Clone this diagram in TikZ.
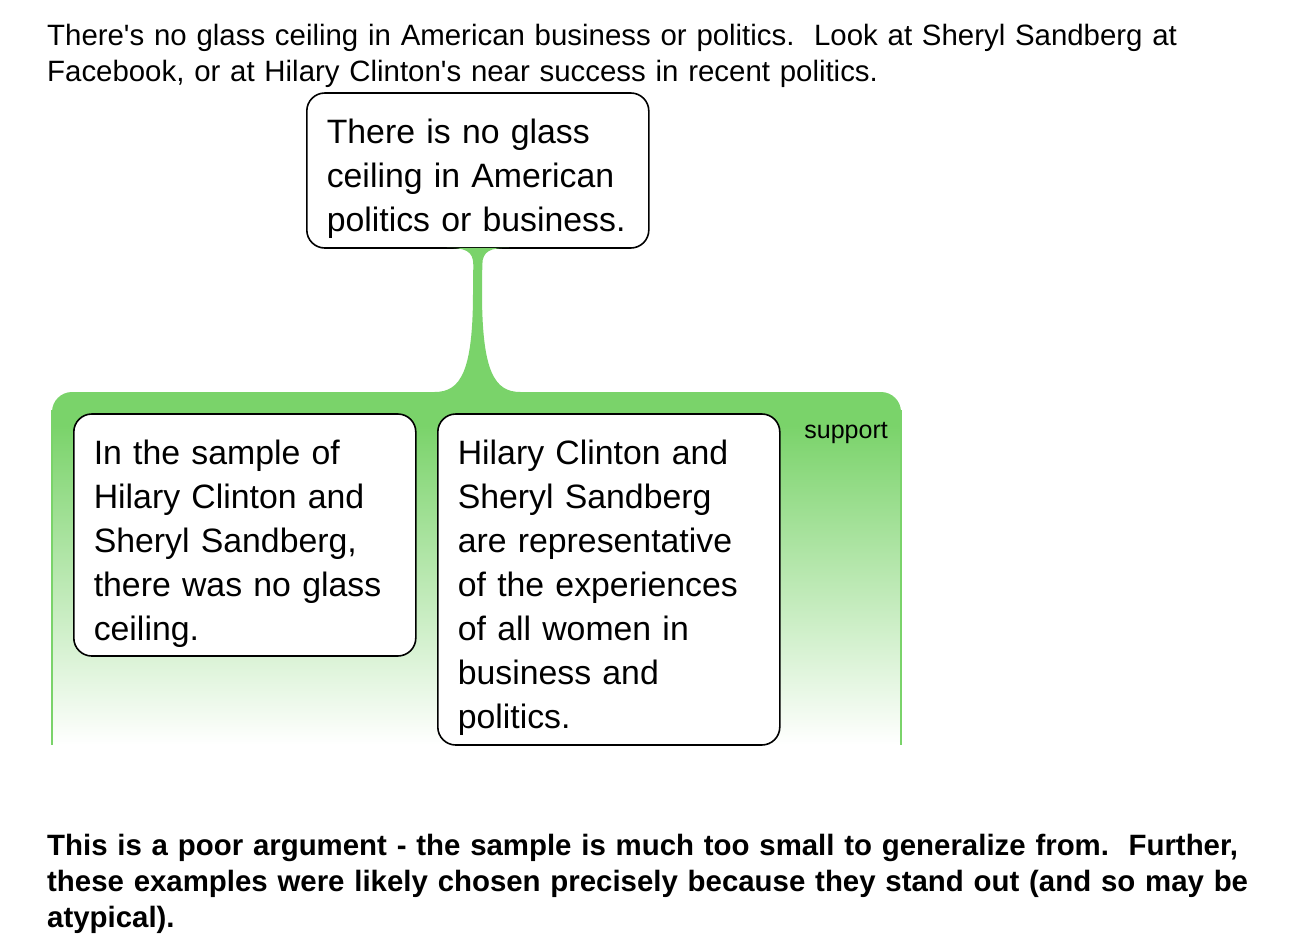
\documentclass[tikz,border=0pt]{standalone}
\usepackage{fontspec}
\setmainfont{Liberation Sans}
\usetikzlibrary{positioning,calc}
\definecolor{suppgreen}{RGB}{122,211,106}
\tikzset{
  argbox/.style={draw=black, line width=1.6pt, rounded corners=18pt, fill=white,
    align=left, text width=302pt, inner xsep=20pt, inner ysep=0pt, text height=50pt,
    font=\fontsize{33.8}{44}\selectfont},
  prose/.style={anchor=base west, inner sep=0pt, align=left, text width=1260pt}
}
\begin{document}
\begin{tikzpicture}[x=1pt,y=-1pt]
\useasboundingbox (0,0) rectangle (1314,940);
\node[prose, font=\fontsize{29.4}{36}\selectfont] (prompt) at (47,45)
  {There\textquotesingle s no glass ceiling in American business or politics.\ \ Look at Sheryl Sandberg at\\
   Facebook, or at Hilary Clinton\textquotesingle s near success in recent politics.};
% claim
\node[argbox, text depth=105pt, anchor=base west] (claim) at (306,143)
  {There is no glass\\ceiling in American\\politics or business.};
% support band
\fill[suppgreen, rounded corners=20pt] (52,392) rectangle (901,460);
\shade[top color=suppgreen, bottom color=white] (52,425) rectangle (901,745);
\draw[suppgreen, line width=1.2pt] (52,410) -- (52,745);
\draw[suppgreen, line width=1.2pt] (901,410) -- (901,745);
\coordinate (joint) at (477.5,392);
\fill[suppgreen]
  ($(claim.south)+(-31,-1)$) .. controls +(18,0) and +(0,-14) .. ($(claim.south)+(-4.5,16)$)
  -- ($(joint)+(-4.5,-100)$) .. controls +(0,80) and +(26,0) .. ($(joint)+(-43,0)$)
  -- ($(joint)+(43,0)$) .. controls +(-26,0) and +(0,80) .. ($(joint)+(4.5,-100)$)
  -- ($(claim.south)+(4.5,16)$) .. controls +(0,-14) and +(-18,0) .. ($(claim.south)+(31,-1)$)
  -- cycle;
\node[anchor=base east, inner sep=0pt, font=\fontsize{25}{30}\selectfont] (supplabel) at (888,438) {support};
% premises
\node[argbox, text depth=192pt, anchor=base west] (premA) at (73,464)
  {In the sample of\\Hilary Clinton and\\Sheryl Sandberg,\\there was no glass\\ceiling.};
\node[argbox, text depth=281pt, anchor=base west] (premB) at (437,464)
  {Hilary Clinton and\\Sheryl Sandberg\\are representative\\of the experiences\\of all women in\\business and\\politics.};
% verdict
\node[prose, font=\fontsize{29.4}{36}\selectfont\bfseries] (verdict) at (47,855)
  {This is a poor argument - the sample is much too small to generalize from.\ \ Further,\\
   these examples were likely chosen precisely because they stand out (and so may be\\
   atypical).};
\end{tikzpicture}
\end{document}
